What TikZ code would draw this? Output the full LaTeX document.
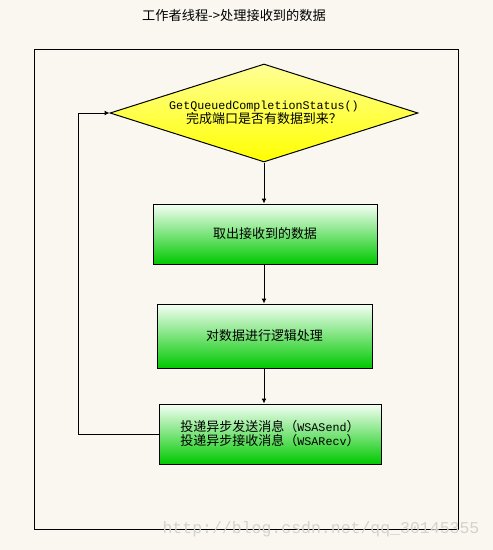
\documentclass[tikz,border=0pt]{standalone}
\usepackage{fontspec}
\newfontfamily\cjk{Noto Sans CJK SC}
\newfontfamily\mono{Liberation Mono}
\usetikzlibrary{shapes.geometric,arrows.meta}
\definecolor{bg}{RGB}{249,247,240}
\definecolor{ygtop}{RGB}{255,255,150}
\definecolor{ygbot}{RGB}{255,255,0}
\definecolor{grtop}{RGB}{245,255,245}
\definecolor{grbot}{RGB}{0,200,0}
\definecolor{wm}{RGB}{212,210,205}
\tikzset{
  conn/.style={line width=1pt,draw=black},
  arr/.style={conn,-{Latex[length=5pt,width=5pt]}},
  procbox/.style={draw=black,line width=1pt,top color=grtop,bottom color=grbot,
    inner sep=0pt,font=\cjk\fontsize{13}{14}\selectfont,align=center},
  txt/.style={inner sep=0pt,align=center}
}
\begin{document}
\begin{tikzpicture}[x=1pt,y=-1pt]
\fill[bg] (0,0) rectangle (493,550);
\useasboundingbox (0,0) rectangle (493,550);
% title
\node[txt,font=\cjk\fontsize{13.2}{14}\selectfont] (title) at (234,15) {工作者线程->处理接收到的数据};
% frame
\draw[conn] (34,49) rectangle (458,529);
% diamond
\node[diamond,draw=black,line width=1pt,top color=ygtop,bottom color=ygbot,
  minimum width=308pt,minimum height=98pt,inner sep=0pt] (dec) at (264,113) {};
\node[txt] (dectext) at (dec.center) {{\mono\fontsize{11.7}{13}\selectfont GetQueuedCompletionStatus()}\\[-1pt]{\cjk\fontsize{13}{13}\selectfont 完成端口是否有数据到来？}};
% boxes
\node[procbox,minimum width=224pt,minimum height=60pt] (b1) at (265,234) {取出接收到的数据};
\node[procbox,minimum width=215pt,minimum height=64pt] (b2) at (264.5,336) {对数据进行逻辑处理};
\node[procbox,minimum width=222pt,minimum height=60pt] (b3) at (270,434)
  {投递异步发送消息（{\mono\fontsize{11.7}{13}\selectfont WSASend}）\\投递异步接收消息（{\mono\fontsize{11.7}{13}\selectfont WSARecv}）};
% connectors
\draw[arr] (dec.south) -- (dec.south |- b1.north);
\draw[arr] (b1.south -| dec.south) -- (b2.north -| dec.south);
\draw[arr] (b2.south -| dec.south) -- (b3.north -| dec.south);
\coordinate (loopA) at (78,434);
\coordinate (loopB) at (78,113);
\draw[arr] (b3.west) -- (loopA) -- (loopB) -- (dec.west);
% watermark
\node[txt,text=wm,font=\mono\fontsize{16.5}{18}\selectfont] (wmark) at (321,529) {http://blog.csdn.net/qq\_30145355};
\end{tikzpicture}
\end{document}
